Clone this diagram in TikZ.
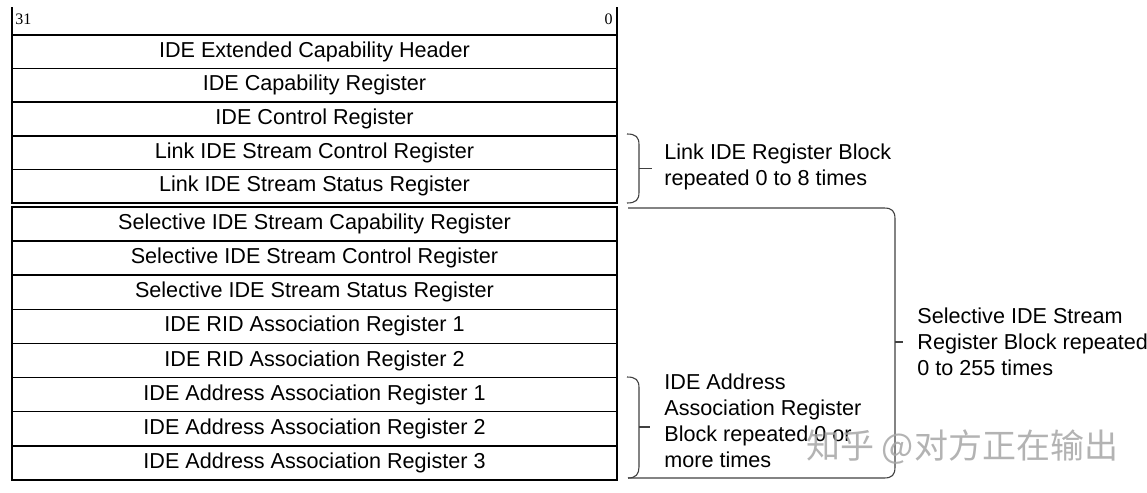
\documentclass[tikz,border=0pt]{standalone}
\usepackage{fontspec}
\setmainfont{Liberation Sans}
\newfontfamily\bitfont{Liberation Serif}
\newfontfamily\cjkfont{Noto Sans CJK SC}
\usetikzlibrary{positioning}

\tikzset{
  reg/.style={draw, line width=0.8pt, minimum width=302.5pt, minimum height=16.8pt,
    inner sep=0pt, outer sep=0pt, font=\fontsize{10.8}{13}\selectfont},
  sreg/.style={reg, minimum height=17.05pt},
  bitnum/.style={inner sep=0pt, font=\bitfont\fontsize{8}{9}\selectfont},
  bracket/.style={draw=black!75, line width=0.55pt},
  note/.style={align=left, anchor=west, inner sep=0pt, font=\fontsize{10.8}{13}\selectfont},
}

\begin{document}
\begin{tikzpicture}[x=0.5pt, y=-0.5pt]
        \useasboundingbox (0,0) rectangle (1147,493);

        % Bit numbers
        \node[bitnum, anchor=west] (msb) at (15,19) {31};
        \node[bitnum, anchor=east] (lsb) at (613,19) {0};

        % IDE registers
        \node[reg] (hdr) at (314.5,51.8) {IDE Extended Capability Header};
        \node[reg, below=0pt of hdr] (cap) {IDE Capability Register};
        \node[reg, below=0pt of cap] (ctl) {IDE Control Register};
        \node[reg, below=0pt of ctl] (lctl) {Link IDE Stream Control Register};
        \node[reg, below=0pt of lctl] (lsts) {Link IDE Stream Status Register};

        % Bit columns above the header
        \draw[line width=0.8pt] (hdr.north west) -- (12,7);
        \draw[line width=0.8pt] (hdr.north east) -- (617,7);

        % Selective IDE stream registers
        \node[sreg, below=2pt of lsts] (scap) {Selective IDE Stream Capability Register};
        \node[sreg, below=0pt of scap] (sctl) {Selective IDE Stream Control Register};
        \node[sreg, below=0pt of sctl] (ssts) {Selective IDE Stream Status Register};
        \node[sreg, below=0pt of ssts] (rid1) {IDE RID Association Register 1};
        \node[sreg, below=0pt of rid1] (rid2) {IDE RID Association Register 2};
        \node[sreg, below=0pt of rid2] (addr1) {IDE Address Association Register 1};
        \node[sreg, below=0pt of addr1] (addr2) {IDE Address Association Register 2};
        \node[sreg, below=0pt of addr2] (addr3) {IDE Address Association Register 3};

        % Link IDE register block
        \draw[bracket] (627,134) .. controls (636,134) and (639,137) .. (639,145) -- (639,192)
          .. controls (639,200) and (636,203) .. (627,203);
        \draw[bracket] (639,168.5) -- (652,168.5);
        \node[note] (linknote) at (664,167) {Link IDE Register Block\\repeated 0 to 8 times};

        % Selective IDE stream register block
        \draw[bracket] (628,208) -- (884,208) .. controls (892,208) and (895,211) .. (895,219)
          -- (895,467) .. controls (895,475) and (892,478) .. (884,478) -- (628,478);
        \draw[bracket] (895,342) -- (903,342);
        \node[note] (selnote) at (917,341.5) {Selective IDE Stream\\Register Block repeated\\0 to 255 times};

        % IDE address association register block
        \draw[bracket] (627,377) .. controls (636,377) and (639,380) .. (639,388) -- (639,467)
          .. controls (639,474) and (636,478) .. (628,478);
        \draw[bracket] (639,427) -- (650,427);
        \node[note] (addrnote) at (664,421) {IDE Address\\Association Register\\Block repeated 0 or\\more times};

        % Watermark
        \node[font=\cjkfont\fontsize{17}{17}\selectfont, text=black!35, opacity=0.85,
          anchor=west, inner sep=0pt] (mark) at (806,447) {知乎 @对方正在输出};
\end{tikzpicture}
\end{document}
